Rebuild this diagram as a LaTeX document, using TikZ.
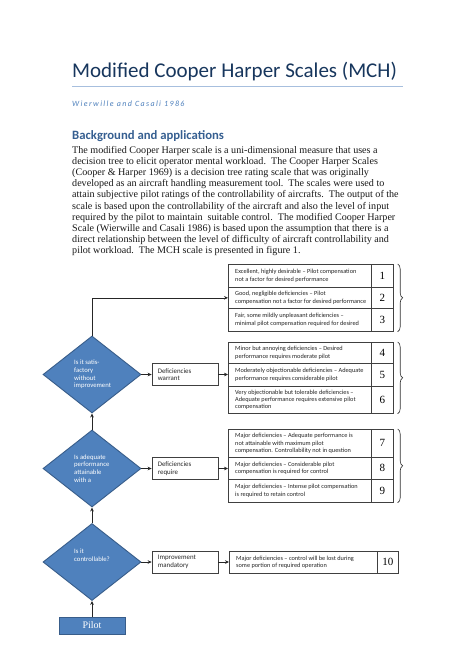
\documentclass[tikz,border=0pt]{standalone}
\usepackage{fontspec}
\setmainfont{Carlito}
\newfontfamily\serifbody{Liberation Serif}
\newfontfamily\spacedfont[LetterSpace=17]{Carlito}
\usetikzlibrary{shapes.geometric,arrows.meta,decorations.pathreplacing,calc}
\definecolor{titleblue}{HTML}{17365D}
\definecolor{rulecol}{HTML}{A7BFDE}
\definecolor{subblue}{HTML}{4F81BD}
\definecolor{headblue}{HTML}{365F91}
\definecolor{dfill}{HTML}{4F81BD}
\definecolor{dline}{HTML}{385D8A}
\definecolor{boxline}{HTML}{404040}
\begin{document}
\begin{tikzpicture}[x=1pt,y=-1pt,
  dia/.style={diamond, draw=dline, fill=dfill, line width=0.9pt, minimum width=98pt, minimum height=77pt, inner sep=0pt},
  dtext/.style={text=white, font=\fontsize{6.7}{7.7}\selectfont, align=left, inner sep=0pt, anchor=west},
  defbox/.style={draw=boxline, line width=0.7pt, minimum width=66pt, minimum height=22pt, inner sep=0pt},
  smalltext/.style={font=\fontsize{6.9}{7.7}\selectfont, align=left, inner sep=0pt, anchor=west, text=black!85},
  rowbox/.style={draw=boxline, line width=0.7pt, minimum width=143pt, inner sep=0pt, anchor=north west},
  numbox/.style={draw=boxline, line width=0.7pt, minimum width=22pt, inner sep=0pt, anchor=north west, font=\serifbody\fontsize{11}{12}\selectfont},
  rtext/.style={font=\fontsize{6.3}{7.2}\selectfont, align=left, inner sep=0pt, anchor=west, text=black!85},
  arr/.style={-{Stealth[length=4pt,width=3.6pt]}, line width=0.7pt, draw=black!85},
  bracestyle/.style={decorate, decoration={brace, amplitude=5pt}, line width=0.6pt, draw=black!80},
  bodyline/.style={anchor=base west, inner sep=0pt, font=\serifbody\fontsize{10.1}{11}\selectfont, text=black!90}
]
\useasboundingbox (0,0) rectangle (474,670);
\fill[white] (0,0) rectangle (474,670);

% header
\node[anchor=base west, inner sep=0pt, font=\fontsize{21}{25}\selectfont, text=titleblue] (title) at (72,77) {Modified Cooper Harper Scales (MCH)};
\draw[rulecol, line width=0.9pt] (72,86) -- (403,86);
\node[anchor=base west, inner sep=0pt, font=\spacedfont\itshape\fontsize{8}{10}\selectfont, text=subblue] (sub) at (72,106.5) {Wierwille and Casali 1986};
\node[anchor=base west, inner sep=0pt, font=\bfseries\fontsize{12.7}{15}\selectfont, text=headblue] (head) at (72,139) {Background and applications};

\foreach \l [count=\i] in {
 {The modified Cooper Harper scale is a uni-dimensional measure that uses a},
 {decision tree to elicit operator mental workload.\ \ The Cooper Harper Scales},
 {(Cooper \& Harper 1969) is a decision tree rating scale that was originally},
 {developed as an aircraft handling measurement tool.\ \ The scales were used to},
 {attain subjective pilot ratings of the controllability of aircrafts.\ \ The output of the},
 {scale is based upon the controllability of the aircraft and also the level of input},
 {required by the pilot to maintain\ \ suitable control.\ \ The modified Cooper Harper},
 {Scale (Wierwille and Casali 1986) is based upon the assumption that there is a},
 {direct relationship between the level of difficulty of aircraft controllability and},
 {pilot workload.\ \ The MCH scale is presented in figure 1.}}
 \node[bodyline] (b\i) at (72,{153.5+11.1*(\i-1)}) {\l};

% diamonds and pilot
\node[dia] (d1) at (92,374.5) {};
\node[dia] (d2) at (92,468.5) {};
\node[dia] (d3) at (92,562) {};
\node[draw=dline, fill=dfill, line width=0.9pt, minimum width=66pt, minimum height=17pt, inner sep=0pt, text=white, font=\serifbody\fontsize{10}{12}\selectfont] (pilot) at (92,625.5) {Pilot};

\node[dtext] (d1t) at ($(d1.center)+(-18,0)$) {Is it satis-\\factory\\without\\improvement};
\node[dtext] (d2t) at ($(d2.center)+(-18,0)$) {Is adequate\\performance\\attainable\\with a};
\node[dtext] (d3t) at ($(d3.center)+(-18,-7)$) {Is it\\controllable?};

% intermediate boxes
\node[defbox] (w1) at (185,374.5) {};
\node[defbox] (w2) at (185,468.5) {};
\node[defbox] (w3) at (185,562) {};
\node[smalltext] (w1t) at ([xshift=6pt]w1.west) {Deficiencies\\warrant};
\node[smalltext] (w2t) at ([xshift=6pt]w2.west) {Deficiencies\\require};
\node[smalltext] (w3t) at ([xshift=6pt]w3.west) {Improvement\\mandatory};

% rating rows
\node[rowbox, minimum height=23pt] (r1) at (228,264) {};
\node[numbox, minimum height=23pt] (n1) at (371,264) {1};
\node[rowbox, minimum height=21pt] (r2) at (228,287) {};
\node[numbox, minimum height=21pt] (n2) at (371,287) {2};
\node[rowbox, minimum height=23pt] (r3) at (228,308) {};
\node[numbox, minimum height=23pt] (n3) at (371,308) {3};

\node[rowbox, minimum height=21pt] (r4) at (228,342) {};
\node[numbox, minimum height=21pt] (n4) at (371,342) {4};
\node[rowbox, minimum height=23pt] (r5) at (228,363) {};
\node[numbox, minimum height=23pt] (n5) at (371,363) {5};
\node[rowbox, minimum height=27pt] (r6) at (228,386) {};
\node[numbox, minimum height=27pt] (n6) at (371,386) {6};

\node[rowbox, minimum height=28pt] (r7) at (228,429) {};
\node[numbox, minimum height=28pt] (n7) at (371,429) {7};
\node[rowbox, minimum height=22pt] (r8) at (228,457) {};
\node[numbox, minimum height=22pt] (n8) at (371,457) {8};
\node[rowbox, minimum height=23pt] (r9) at (228,479) {};
\node[numbox, minimum height=23pt] (n9) at (371,479) {9};

\node[rowbox, minimum width=148pt, minimum height=22pt] (r10) at (229,551) {};
\node[numbox, minimum width=21pt, minimum height=22pt] (n10) at (377,551) {10};

\node[rtext] (t1) at ([xshift=7pt]r1.west) {Excellent, highly desirable -- Pilot compensation\\not a factor for desired performance};
\node[rtext] (t2) at ([xshift=7pt]r2.west) {Good, negligible deficiencies -- Pilot\\compensation not a factor for desired performance};
\node[rtext] (t3) at ([xshift=7pt]r3.west) {Fair, some mildly unpleasant deficiencies --\\minimal pilot compensation required for desired};
\node[rtext] (t4) at ([xshift=7pt]r4.west) {Minor but annoying deficiencies -- Desired\\performance requires moderate pilot};
\node[rtext] (t5) at ([xshift=7pt]r5.west) {Moderately objectionable deficiencies -- Adequate\\performance requires considerable pilot};
\node[rtext] (t6) at ([xshift=7pt]r6.west) {Very objectionable but tolerable deficiencies --\\Adequate performance requires extensive pilot\\compensation};
\node[rtext] (t7) at ([xshift=7pt]r7.west) {Major deficiencies -- Adequate performance is\\not attainable with maximum pilot\\compensation. Controllability not in question};
\node[rtext] (t8) at ([xshift=7pt]r8.west) {Major deficiencies -- Considerable pilot\\compensation is required for control};
\node[rtext] (t9) at ([xshift=7pt]r9.west) {Major deficiencies -- Intense pilot compensation\\is required to retain control};
\node[rtext] (t10) at ([xshift=7pt]r10.west) {Major deficiencies -- control will be lost during\\some portion of required operation};

% braces
\draw[bracestyle] ([xshift=4pt]n1.north east) -- ([xshift=4pt]n3.south east);
\draw[bracestyle] ([xshift=4pt]n4.north east) -- ([xshift=4pt]n6.south east);
\draw[bracestyle] ([xshift=4pt]n7.north east) -- ([xshift=4pt]n9.south east);

% connectors
\draw[arr] (pilot.north) -- (d3.south);
\draw[arr] (d3.north) -- (d2.south);
\draw[arr] (d2.north) -- (d1.south);
\draw[arr] (d1.north) |- (r2.west);
\draw[arr] (d1.east) -- (w1.west);
\draw[arr] (w1.east) -- (w1.east -| r5.west);
\draw[arr] (d2.east) -- (w2.west);
\draw[arr] (w2.east) -- (w2.east -| r8.west);
\draw[arr] (d3.east) -- (w3.west);
\draw[arr] (w3.east) -- (w3.east -| r10.west);
\end{tikzpicture}
\end{document}
